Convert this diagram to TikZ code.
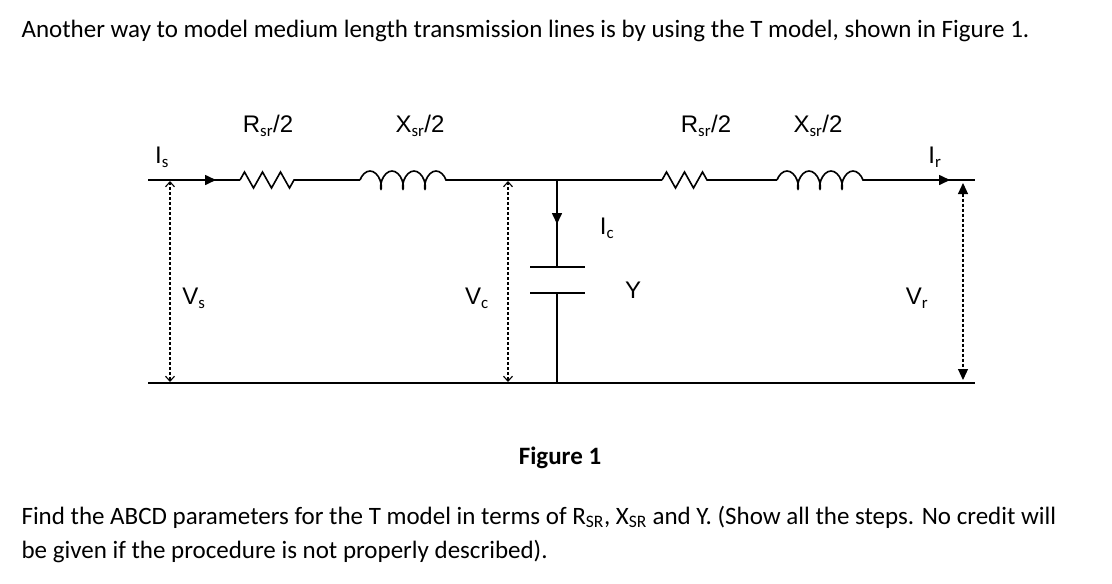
\documentclass[tikz,border=0pt]{standalone}
\usepackage{fontspec}
\setmainfont{Carlito}
\newfontfamily\lab{Liberation Sans}
\usetikzlibrary{decorations.pathmorphing,arrows.meta}
\begin{document}
\begin{tikzpicture}[x=1pt,y=-1pt,
  wire/.style={line width=1.6pt},
  gnd/.style={line width=2.8pt},
  meas/.style={densely dashed,line width=1.1pt},
  lbl/.style={font=\lab\fontsize{24}{26}\selectfont},
  txt/.style={font=\fontsize{25}{29}\selectfont,anchor=west},
  coilst/.style={decorate,decoration={coil,aspect=0.5,segment length=22pt,amplitude=9pt}},
  zig/.style={decorate,decoration={zigzag,segment length=18pt,amplitude=8pt}}]
\useasboundingbox (0,0) rectangle (1112,584);
\node[txt] (t1) at (18,31) {Another way to model medium length transmission lines is by using the T model, shown in Figure 1.};
\node[txt,font=\bfseries\fontsize{25}{29}\selectfont,anchor=center] (fig) at (560,458) {Figure 1};
\node[txt] (t2) at (18,517) {Find the ABCD parameters for the T model in terms of R\textsubscript{SR}, X\textsubscript{SR} and Y. (Show all the steps. No credit will};
\node[txt] (t3) at (18,551) {be given if the procedure is not properly described).};
% coordinates
\coordinate (a) at (148,180); \coordinate (r1a) at (240,180); \coordinate (r1b) at (297,180);
\coordinate (l1a) at (360,180); \coordinate (l1b) at (465,180); \coordinate (c) at (557,180);
\coordinate (r2a) at (662,180); \coordinate (r2b) at (715,180);
\coordinate (l2a) at (777,180); \coordinate (l2b) at (883,180); \coordinate (b) at (975,180);
\coordinate (ga) at (148,383); \coordinate (gb) at (975,383); \coordinate (gc) at (557,383);
\draw[wire] (a) -- (r1a);
\draw[wire,zig] (r1a) -- (r1b);
\draw[wire] (r1b) -- (l1a);
\draw[wire,coilst] (l1a) -- (l1b);
\draw[wire] (l1b) -- (c) -- (r2a);
\draw[wire,zig] (r2a) -- (r2b);
\draw[wire] (r2b) -- (l2a);
\draw[wire,coilst] (l2a) -- (l2b);
\draw[wire] (l2b) -- (b);
\draw[gnd] (ga) -- (gb);
% arrows on wire
\draw[-{Triangle[length=11pt,width=10pt]},wire] (190,180) -- (216,180);
\draw[-{Triangle[length=11pt,width=10pt]},wire] (928,180) -- (950,180);
% capacitor
\coordinate (p1) at (557,267); \coordinate (p2) at (557,293);
\draw[wire] (c) -- (p1);
\draw[-{Triangle[length=11pt,width=10pt]},wire] (557,200) -- (557,224);
\draw[gnd] (530,267) -- (585,267);
\draw[gnd] (530,293) -- (585,293);
\draw[gnd] (p2) -- (gc);
% measurement lines
\draw[meas,{Straight Barb[length=5pt,width=9pt]}-{Straight Barb[length=5pt,width=9pt]}] (170,181) -- (170,382);
\draw[meas,{Straight Barb[length=5pt,width=9pt]}-{Straight Barb[length=5pt,width=9pt]}] (508,181) -- (508,382);
\draw[meas,{Triangle[length=11pt,width=10pt]}-{Triangle[length=11pt,width=10pt]}] (963,183) -- (963,380);
% labels
\node[lbl] (l1) at (268,126) {R$_{\mathrm{sr}}$/2};
\node[lbl] (l2) at (420,126) {X$_{\mathrm{sr}}$/2};
\node[lbl] (l3) at (706,126) {R$_{\mathrm{sr}}$/2};
\node[lbl] (l4) at (818,126) {X$_{\mathrm{sr}}$/2};
\node[lbl] (is) at (162,157) {I$_{\mathrm{s}}$};
\node[lbl] (ir) at (935,157) {I$_{\mathrm{r}}$};
\node[lbl] (vs) at (194,298) {V$_{\mathrm{s}}$};
\node[lbl] (vc) at (477,298) {V$_{\mathrm{c}}$};
\node[lbl] (ic) at (607,228) {I$_{\mathrm{c}}$};
\node[lbl] (y) at (633,290) {Y};
\node[lbl] (vr) at (917,298) {V$_{\mathrm{r}}$};
\end{tikzpicture}
\end{document}
